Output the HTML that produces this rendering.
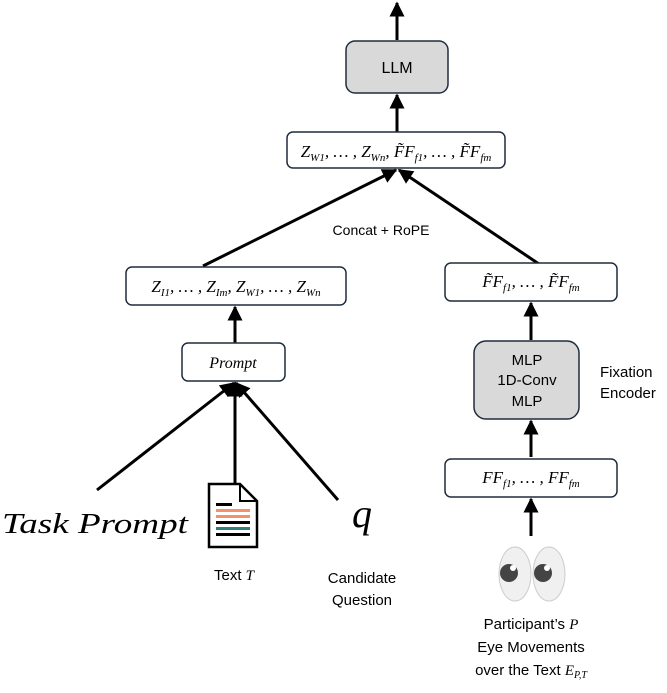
<!DOCTYPE html>
<html><head><meta charset="utf-8"><style>
html,body{margin:0;padding:0;background:#fff}
svg text{font-family:"Liberation Sans",sans-serif}
.m{font-family:"Liberation Serif",serif;font-style:italic}
</style></head><body>
<svg width="667" height="688" viewBox="0 0 667 688" xmlns="http://www.w3.org/2000/svg">
<defs><marker id="a" viewBox="0 0 10 10" refX="9" refY="5" markerWidth="5" markerHeight="5" orient="auto"><path d="M0,0L10,5L0,10z" fill="#000"/></marker></defs>
<g stroke="#000" stroke-width="3" fill="none" marker-end="url(#a)">
<line x1="397" y1="40" x2="397" y2="3"/>
<line x1="397" y1="132" x2="397" y2="95"/>
<line x1="203" y1="266" x2="396" y2="170"/>
<line x1="539" y1="264" x2="399" y2="170"/>
<line x1="235" y1="343" x2="235" y2="307"/>
<line x1="97" y1="490" x2="234" y2="383"/>
<line x1="235" y1="502" x2="235" y2="383"/>
<line x1="338" y1="500" x2="236" y2="383"/>
<line x1="531" y1="340" x2="531" y2="303"/>
<line x1="531" y1="457" x2="531" y2="421"/>
<line x1="531" y1="536" x2="531" y2="499"/>
</g>
<g stroke="#1f2d3d" stroke-width="1.5">
<rect x="346" y="41" width="102" height="52" rx="9" fill="#d9d9d9"/>
<rect x="287" y="132" width="218" height="36" rx="6" fill="#fff"/>
<rect x="126" y="267" width="220" height="38" rx="6" fill="#fff"/>
<rect x="445" y="263" width="172" height="38" rx="6" fill="#fff"/>
<rect x="182" y="343" width="103" height="38" rx="6" fill="#fff"/>
<rect x="474" y="341" width="105" height="78" rx="12" fill="#d9d9d9"/>
<rect x="445" y="459" width="172" height="38" rx="6" fill="#fff"/>
</g>
<text x="397" y="73" font-size="16" text-anchor="middle">LLM</text>
<text x="396" y="157" font-size="17" text-anchor="middle" class="m">Z<tspan font-size="11" dy="4">W1</tspan><tspan dy="-4">, … , Z</tspan><tspan font-size="11" dy="4">Wn</tspan><tspan dy="-4">, F̃F</tspan><tspan font-size="11" dy="4">f1</tspan><tspan dy="-4">, … , F̃F</tspan><tspan font-size="11" dy="4">fm</tspan></text>
<text x="381" y="235" font-size="14" text-anchor="middle">Concat + RoPE</text>
<text x="236" y="292" font-size="17" text-anchor="middle" class="m">Z<tspan font-size="11" dy="4">I1</tspan><tspan dy="-4">, … , Z</tspan><tspan font-size="11" dy="4">Im</tspan><tspan dy="-4">, Z</tspan><tspan font-size="11" dy="4">W1</tspan><tspan dy="-4">, … , Z</tspan><tspan font-size="11" dy="4">Wn</tspan></text>
<text x="531" y="287" font-size="17" text-anchor="middle" class="m">F̃F<tspan font-size="11" dy="4">f1</tspan><tspan dy="-4">, … , F̃F</tspan><tspan font-size="11" dy="4">fm</tspan></text>
<text x="233" y="368" font-size="16" text-anchor="middle" class="m">Prompt</text>
<g font-size="15" text-anchor="middle"><text x="527" y="365">MLP</text><text x="527" y="385">1D-Conv</text><text x="527" y="406">MLP</text></g>
<text x="600" y="377" font-size="15">Fixation</text><text x="600" y="398" font-size="15">Encoder</text>
<text x="531" y="483" font-size="17" text-anchor="middle" class="m">FF<tspan font-size="11" dy="4">f1</tspan><tspan dy="-4">, … , FF</tspan><tspan font-size="11" dy="4">fm</tspan></text>
<text x="2" y="533" font-size="28" class="m" textLength="186" lengthAdjust="spacingAndGlyphs">Task Prompt</text>
<g>
<path d="M209,484 L240,484 L257,501 L257,547 L209,547 Z" fill="#fff" stroke="#000" stroke-width="2.5"/>
<path d="M240,484 L240,501 L257,501" fill="none" stroke="#000" stroke-width="2"/>
<rect x="216" y="503" width="16" height="3" fill="#000"/>
<rect x="216" y="509" width="34" height="3" fill="#f4906a"/>
<rect x="216" y="515" width="34" height="3" fill="#f4906a"/>
<rect x="216" y="521" width="34" height="3" fill="#000"/>
<rect x="216" y="527" width="34" height="3" fill="#2f7f7a"/>
<rect x="216" y="533" width="34" height="3" fill="#000"/>
</g>
<text x="234" y="580" font-size="15" text-anchor="middle">Text <tspan class="m">T</tspan></text>
<text x="362" y="527" font-size="40" text-anchor="middle" class="m">q</text>
<text x="362" y="583" font-size="15" text-anchor="middle">Candidate</text>
<text x="362" y="605" font-size="15" text-anchor="middle">Question</text>
<g>
<ellipse cx="515" cy="574" rx="16" ry="27" fill="#f0f0f0" stroke="#ccc"/>
<ellipse cx="549" cy="574" rx="16" ry="27" fill="#f0f0f0" stroke="#ccc"/>
<circle cx="509" cy="573" r="9" fill="#444"/><circle cx="543" cy="573" r="9" fill="#444"/>
<circle cx="513" cy="568" r="3" fill="#fff"/><circle cx="547" cy="568" r="3" fill="#fff"/>
</g>
<g font-size="15" text-anchor="middle"><text x="531" y="629">Participant’s <tspan class="m">P</tspan></text>
<text x="531" y="652">Eye Movements</text>
<text x="531" y="675">over the Text <tspan class="m">E</tspan><tspan class="m" font-size="10" dy="3">P,T</tspan></text></g>
</svg>
</body></html>
